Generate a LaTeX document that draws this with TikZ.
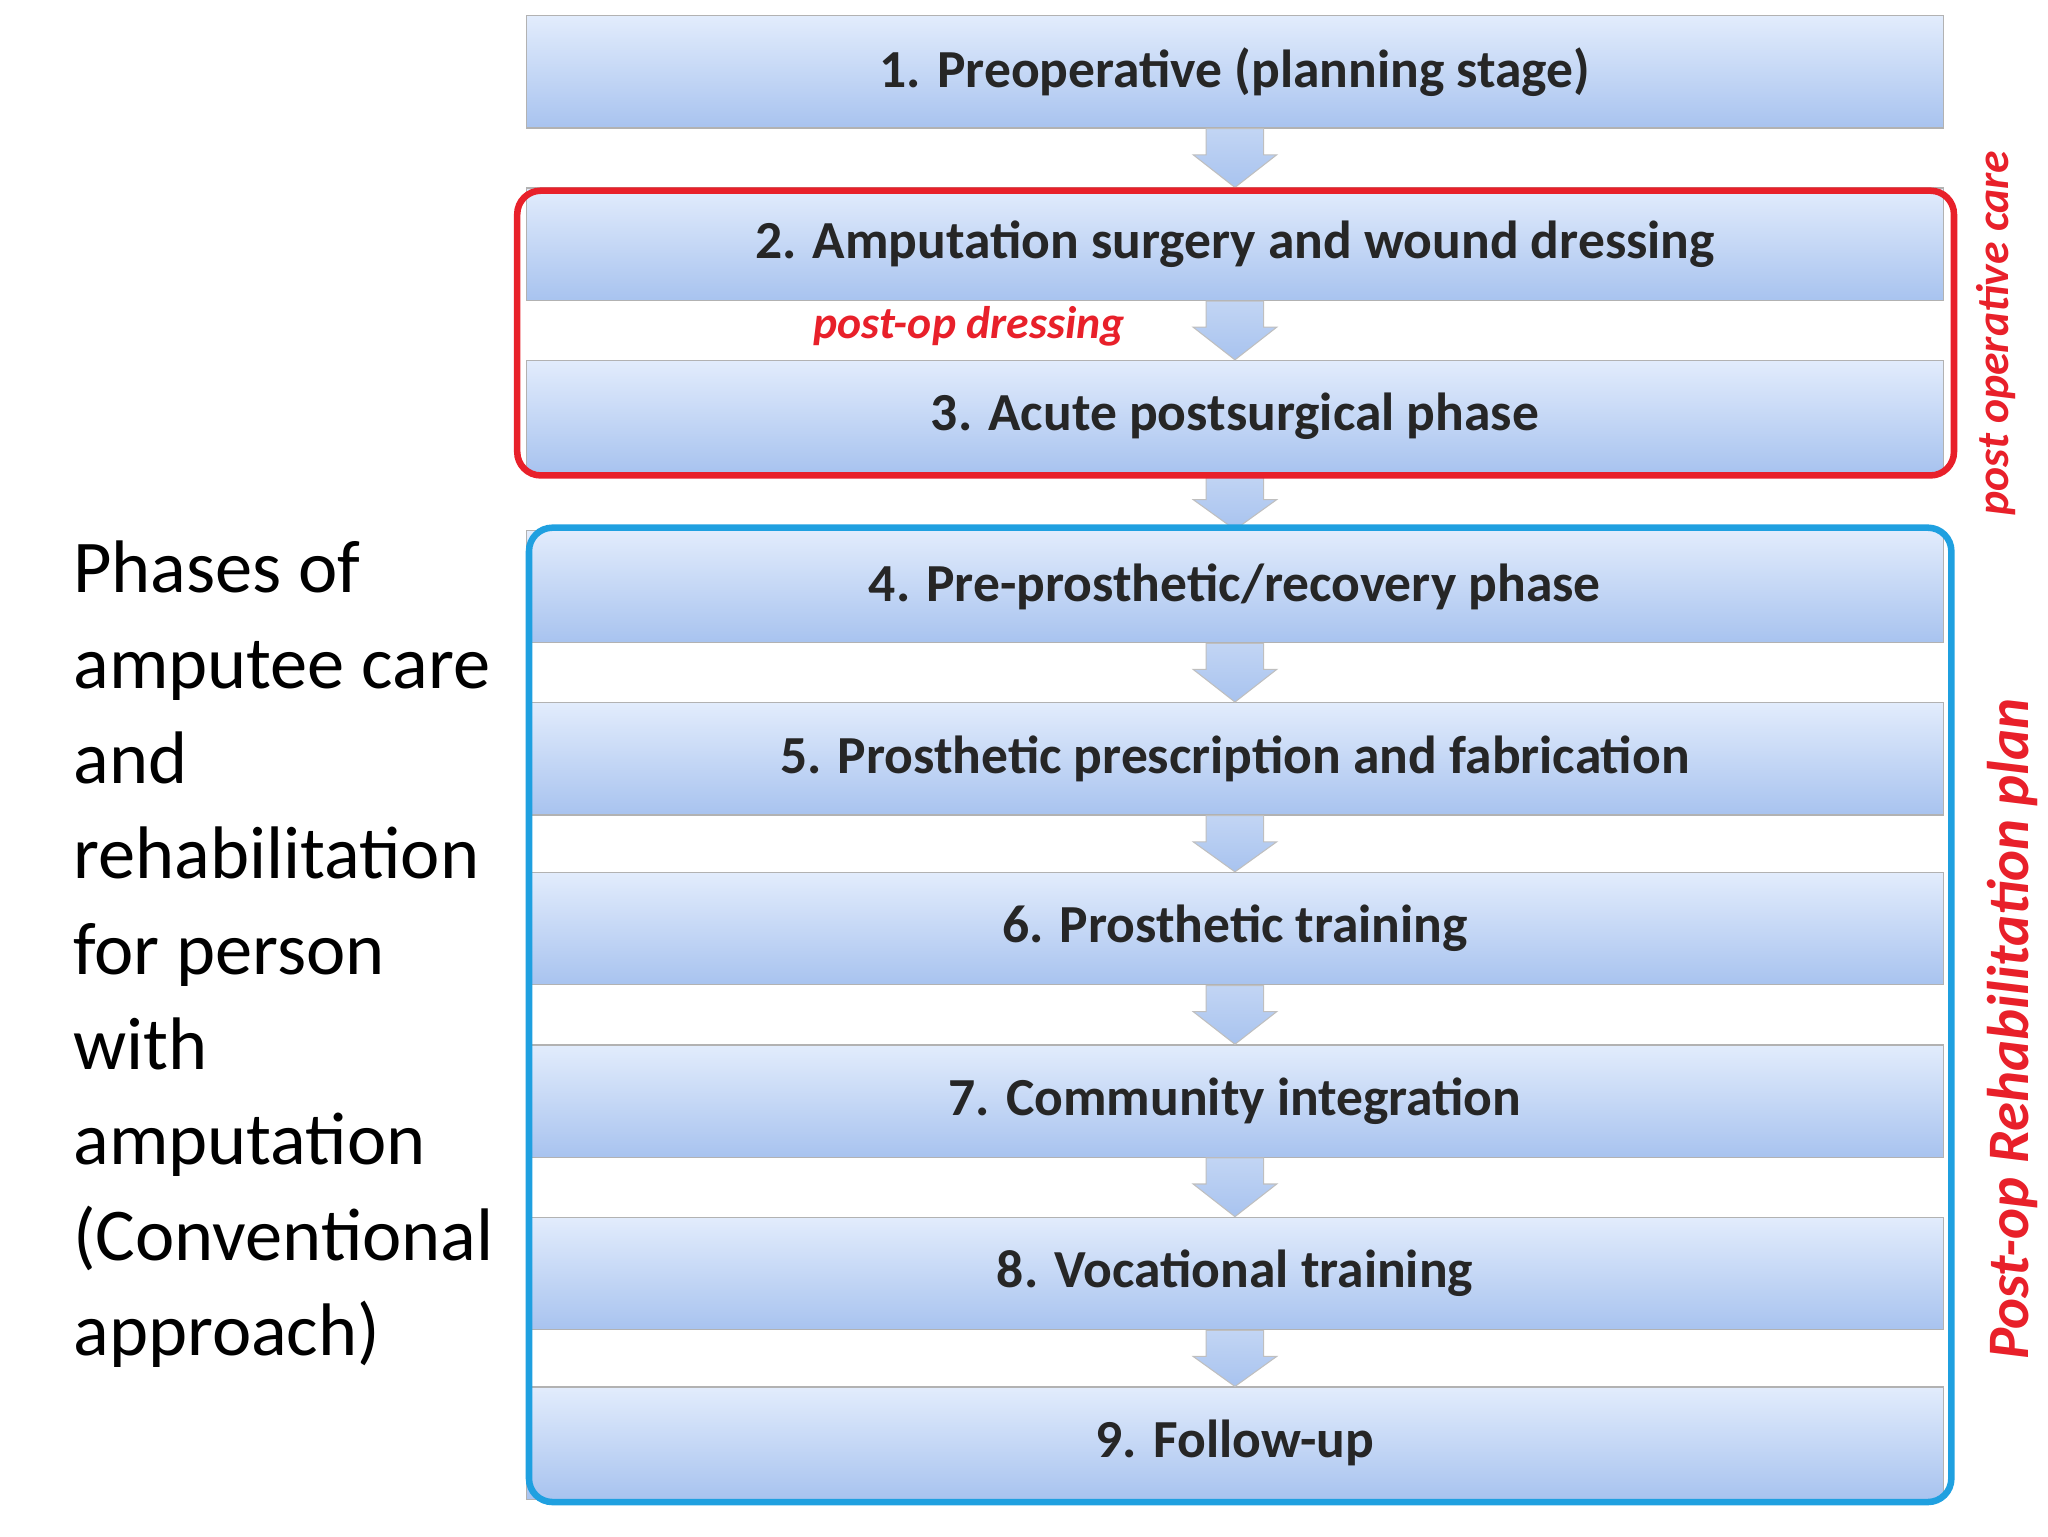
\documentclass[tikz,border=0pt]{standalone}
\usepackage{fontspec}
\setmainfont{Carlito}
\usetikzlibrary{calc}
\definecolor{boxtop}{HTML}{E2ECFC}
\definecolor{boxbot}{HTML}{A8C3EF}
\definecolor{myred}{HTML}{E8202A}
\definecolor{myblue}{HTML}{1FA0E0}
\tikzset{
  phase/.style={draw=gray!60, line width=1pt, top color=boxtop, bottom color=boxbot,
    minimum width=1085pt, minimum height=86pt, inner sep=0pt,
    font=\fontsize{41}{43}\selectfont\bfseries, text=black!85},
  flow/.style={draw=gray!50, line width=0.8pt, top color=boxbot!70, bottom color=boxbot}
}
\newcommand{\flowarrow}[2]{%
  \path[flow] let \p1=(#1.south), \p2=(#2.north) in
   (\x1-22pt,\y1) -- (\x1+22pt,\y1) -- (\x1+22pt,\y1-20pt) -- (\x1+32pt,\y1-20pt)
   -- (\x1,\y2) -- (\x1-32pt,\y1-20pt) -- (\x1-22pt,\y1-20pt) -- cycle;}
\begin{document}
\begin{tikzpicture}[x=1pt,y=-1pt]
\useasboundingbox (0,0) rectangle (1568,1176);
\node[anchor=north west, align=left, font=\fontsize{57}{73}\selectfont, inner sep=0pt] (lbl) at (56,414)
 {Phases of\\amputee care\\and\\rehabilitation\\for person\\with\\amputation\\(Conventional\\approach)};
\node[phase] (b1) at (945.5,55) {1. Preoperative (planning stage)};
\node[phase] (b2) at (945.5,187) {2. Amputation surgery and wound dressing};
\node[phase] (b3) at (945.5,319) {3. Acute postsurgical phase};
\node[phase] (b4) at (945.5,449) {4. Pre-prosthetic/recovery phase};
\node[phase] (b5) at (945.5,581) {5. Prosthetic prescription and fabrication};
\node[phase] (b6) at (945.5,711) {6. Prosthetic training};
\node[phase] (b7) at (945.5,843) {7. Community integration};
\node[phase] (b8) at (945.5,975) {8. Vocational training};
\node[phase] (b9) at (945.5,1105) {9. Follow-up};
\flowarrow{b1}{b2}\flowarrow{b2}{b3}\flowarrow{b3}{b4}\flowarrow{b4}{b5}
\flowarrow{b5}{b6}\flowarrow{b6}{b7}\flowarrow{b7}{b8}\flowarrow{b8}{b9}
\draw[myred, line width=5pt, rounded corners=18pt] (396,146) rectangle (1496,364);
\draw[myblue, line width=5pt, rounded corners=18pt] (405,404) rectangle (1494,1150);
\node[text=myred, font=\fontsize{35}{37}\selectfont\bfseries\itshape] (pd) at (742,250) {post-op dressing};
\node[text=myred, rotate=90, font=\fontsize{35}{37}\selectfont\bfseries\itshape] (pc) at (1528,255) {post operative care};
\node[text=myred, rotate=90, inner sep=1pt, font=\fontsize{45}{47}\selectfont\bfseries\itshape] (pr) at (1541,788) {Post-op Rehabilitation plan};
\end{tikzpicture}
\end{document}
